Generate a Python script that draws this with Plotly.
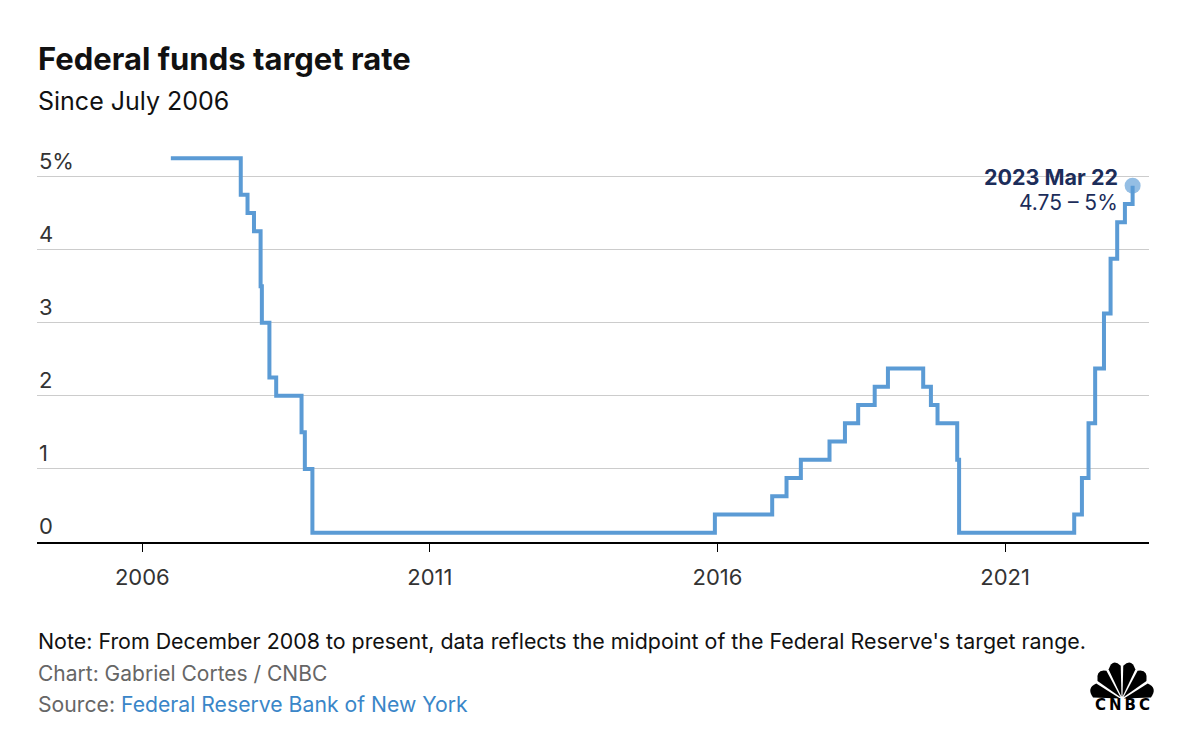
import math
import plotly.graph_objects as go

# ---- data: FOMC target rate changes (midpoint of range after Dec 2008) ----
dates = ["2006-07-01", "2007-09-18", "2007-10-31", "2007-12-11", "2008-01-22",
         "2008-01-30", "2008-03-18", "2008-04-30", "2008-10-08", "2008-10-29",
         "2008-12-16", "2015-12-16", "2016-12-14", "2017-03-15", "2017-06-14",
         "2017-12-13", "2018-03-21", "2018-06-13", "2018-09-26", "2018-12-19",
         "2019-07-31", "2019-09-18", "2019-10-30", "2020-03-03", "2020-03-15",
         "2022-03-16", "2022-05-04", "2022-06-15", "2022-07-27", "2022-09-21",
         "2022-11-02", "2022-12-14", "2023-02-01", "2023-03-22"]
rates = [5.25, 4.75, 4.50, 4.25, 3.50,
         3.00, 2.25, 2.00, 1.50, 1.00,
         0.125, 0.375, 0.625, 0.875, 1.125,
         1.375, 1.625, 1.875, 2.125, 2.375,
         2.125, 1.875, 1.625, 1.125, 0.125,
         0.375, 0.875, 1.625, 2.375, 3.125,
         3.875, 4.375, 4.625, 4.875]
x_ticks = ["2006-01-01", "2011-01-01", "2016-01-01", "2021-01-01"]
x_tick_labels = ["2006", "2011", "2016", "2021"]
y_ticks = [0, 1, 2, 3, 4, 5]
y_tick_labels = ["0", "1", "2", "3", "4", "5%"]
last_label = "2023 Mar 22"
last_range = "4.75 – 5%"

OFF = 8  # page body margin
W, H = 1200 - OFF, 755 - OFF
L, R, T, B = 37 - OFF, 51, 140 - OFF, 213
FONT = "Inter"
LINE = "#5b9bd5"
NAVY = "#1c2d5a"


def px(xp):
    return (xp - OFF - L) / (W - L - R)


def py(yp):
    return (H - B - (yp - OFF)) / (H - T - B)


fig = go.Figure()
fig.add_trace(go.Scatter(x=dates, y=rates, mode="lines", line_shape="hv",
                         line=dict(color=LINE, width=4), hoverinfo="skip",
                         showlegend=False))
fig.add_trace(go.Scatter(x=[dates[-1]], y=[rates[-1]], mode="markers",
                         marker=dict(color="rgba(91,155,213,0.65)", size=16),
                         hoverinfo="skip", showlegend=False))

anns = []
# y tick labels above gridlines
for v, t in zip(y_ticks, y_tick_labels):
    anns.append(dict(x=0, xref="paper", y=v, yref="y", text=t, showarrow=False,
                     xanchor="left", yanchor="bottom", yshift=1,
                     font=dict(family=FONT, size=22, color="#333333")))
# last point label
anns.append(dict(x=dates[-1], y=rates[-1], text="<b>" + last_label + "</b>",
                 showarrow=False, xanchor="right", yanchor="middle",
                 xshift=-13, yshift=9,
                 font=dict(family=FONT, size=21.5, color=NAVY)))
anns.append(dict(x=dates[-1], y=rates[-1], text=last_range,
                 showarrow=False, xanchor="right", yanchor="middle",
                 xshift=-13, yshift=-17,
                 font=dict(family=FONT, size=21, color=NAVY)))
# titles and notes
anns.append(dict(x=px(36), y=py(59), xref="paper", yref="paper",
                 text="<b>Federal funds target rate</b>", showarrow=False,
                 xanchor="left", yanchor="middle",
                 font=dict(family=FONT, size=31, color="#111111")))
anns.append(dict(x=px(36), y=py(101), xref="paper", yref="paper",
                 text="Since July 2006", showarrow=False,
                 xanchor="left", yanchor="middle",
                 font=dict(family=FONT, size=25, color="#111111")))
anns.append(dict(x=px(36), y=py(641), xref="paper", yref="paper",
                 text="Note: From December 2008 to present, data reflects the midpoint of the Federal Reserve's target range.",
                 showarrow=False, xanchor="left", yanchor="middle",
                 font=dict(family=FONT, size=21.4, color="#111111")))
anns.append(dict(x=px(36), y=py(673), xref="paper", yref="paper",
                 text="Chart: Gabriel Cortes / CNBC", showarrow=False,
                 xanchor="left", yanchor="middle",
                 font=dict(family=FONT, size=21, color="#666666")))
anns.append(dict(x=px(36), y=py(704), xref="paper", yref="paper",
                 text="Source: <span style='color:#3a86c8'>Federal Reserve Bank of New York</span>",
                 showarrow=False, xanchor="left", yanchor="middle",
                 font=dict(family=FONT, size=21.2, color="#666666")))
anns.append(dict(x=px(1122), y=py(705), xref="paper", yref="paper",
                 text="<b>C\u2009N\u2009B\u2009C</b>", showarrow=False,
                 xanchor="center", yanchor="middle",
                 font=dict(family="DejaVu Sans", size=15, color="#000000")))

# CNBC peacock (approximation)
shapes = []
cx, cy = 1122, 699
for k in range(6):
    a = math.radians(165 - 30 * k)
    d = math.radians(12.5)
    r = 29
    sy = 1.15
    p0 = (cx + 2 * math.cos(a), cy - 2 * sy * math.sin(a))
    p1 = (cx + r * math.cos(a - d), cy - r * sy * math.sin(a - d))
    p2 = (cx + r * math.cos(a + d), cy - r * sy * math.sin(a + d))
    c = (cx + r * 1.28 * math.cos(a), cy - r * sy * 1.28 * math.sin(a))
    path = "M {:.5f},{:.5f} L {:.5f},{:.5f} Q {:.5f},{:.5f} {:.5f},{:.5f} Z".format(
        px(p0[0]), py(p0[1]), px(p1[0]), py(p1[1]), px(c[0]), py(c[1]),
        px(p2[0]), py(p2[1]))
    shapes.append(dict(type="path", path=path, xref="paper", yref="paper",
                       fillcolor="#000000", line=dict(width=0)))

fig.update_layout(
    width=W, height=H, autosize=False,
    margin=dict(l=L, r=R, t=T, b=B),
    paper_bgcolor="white", plot_bgcolor="white",
    annotations=anns, shapes=shapes,
    xaxis=dict(type="date", range=["2004-03-03", "2023-07-04"],
               tickvals=x_ticks, ticktext=x_tick_labels,
               showgrid=False, zeroline=False,
               showline=True, linecolor="#000000", linewidth=1.5,
               ticks="outside", ticklen=8, tickcolor="#000000", tickwidth=1.2,
               tickfont=dict(family=FONT, size=22, color="#333333"),
               ticklabelstandoff=7, fixedrange=True),
    yaxis=dict(range=[0, 5.5], tickvals=y_ticks, showticklabels=False,
               showgrid=True, gridcolor="#cccccc", gridwidth=1,
               zeroline=False, showline=False, fixedrange=True),
)

fig.write_html("out.html")
